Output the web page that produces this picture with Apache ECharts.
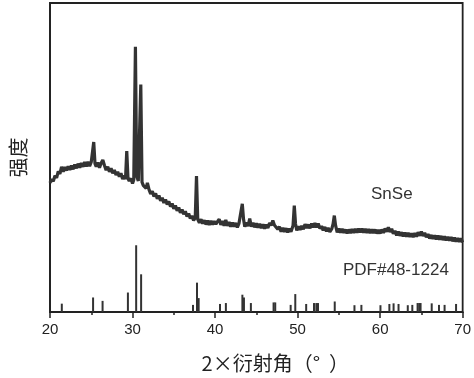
<!DOCTYPE html>
<html>
<head>
<meta charset="utf-8">
<script src="https://cdn.jsdelivr.net/npm/echarts@6/dist/echarts.min.js"></script>
<style>
html,body{margin:0;padding:0;background:#fff;}
#container{width:474px;height:378px;}
</style>
</head>
<body>
<div id="container"></div>
<script>
// measured SnSe pattern, [2theta, intensity a.u.]
var snseCurve = [
  [20.0,418],[20.2,430],[20.4,423],[20.6,441],[20.8,434],[21.0,455],[21.2,447],[21.4,470],[21.6,454],[21.8,469],
  [22.0,458],[22.2,471],[22.4,460],[22.6,474],[22.8,462],[23.0,477],[23.2,465],[23.4,480],[23.6,467],[23.8,482],
  [24.0,470],[24.2,485],[24.4,471],[24.6,486],[24.8,472],[25.0,486],[25.15,490],[25.3,550],[25.45,480],[25.6,470],
  [25.8,484],[26.0,467],[26.2,482],[26.4,492],[26.6,474],[26.8,459],[27.0,470],[27.2,454],[27.4,465],[27.6,449],
  [27.8,460],[28.0,443],[28.2,454],[28.4,438],[28.6,449],[28.8,430],[29.0,442],[29.15,430],[29.3,521],[29.45,432],
  [29.6,424],[29.8,432],[30.0,416],[30.15,428],[30.35,858],[30.5,440],[30.7,424],[30.85,430],[31.0,736],[31.15,420],
  [31.3,410],[31.5,412],[31.65,400],[31.8,418],[32.0,396],[32.2,382],[32.4,391],[32.6,374],[32.8,384],[33.0,366],
  [33.2,377],[33.4,360],[33.6,370],[33.8,353],[34.0,364],[34.2,348],[34.4,358],[34.6,341],[34.8,351],[35.0,334],
  [35.2,345],[35.4,328],[35.6,338],[35.8,321],[36.0,332],[36.2,316],[36.4,326],[36.6,309],[36.8,319],[37.0,303],
  [37.2,311],[37.4,296],[37.6,305],[37.75,440],[37.9,300],[38.1,289],[38.3,300],[38.5,286],[38.7,297],[38.9,283],
  [39.1,296],[39.3,282],[39.5,295],[39.7,283],[39.9,294],[40.1,284],[40.3,293],[40.5,300],[40.7,282],[40.9,294],
  [41.1,279],[41.3,298],[41.5,279],[41.7,291],[41.9,276],[42.1,289],[42.3,276],[42.5,288],[42.7,274],[42.9,287],
  [43.1,285],[43.3,350],[43.45,300],[43.6,276],[43.8,289],[44.0,278],[44.2,302],[44.4,276],[44.6,289],[44.8,274],
  [45.0,287],[45.2,273],[45.4,285],[45.6,271],[45.8,284],[46.0,270],[46.2,283],[46.4,272],[46.6,288],[46.8,280],
  [47.0,296],[47.2,281],[47.4,285],[47.6,268],[47.8,276],[48.0,260],[48.2,272],[48.4,259],[48.6,271],[48.8,258],
  [49.0,270],[49.2,260],[49.45,280],[49.6,344],[49.75,285],[49.9,264],[50.1,277],[50.3,266],[50.5,279],[50.7,268],
  [50.9,284],[51.1,272],[51.3,283],[51.5,271],[51.7,286],[51.9,274],[52.1,288],[52.3,274],[52.5,286],[52.7,270],
  [52.9,278],[53.1,264],[53.3,275],[53.5,261],[53.7,272],[53.9,259],[54.15,270],[54.3,285],[54.45,312],[54.6,280],
  [54.8,258],[55.0,270],[55.2,257],[55.4,269],[55.6,256],[55.8,267],[56.0,254],[56.2,267],[56.4,255],[56.6,268],
  [56.8,256],[57.0,269],[57.2,257],[57.4,270],[57.6,258],[57.8,270],[58.0,257],[58.2,269],[58.4,256],[58.6,268],
  [58.8,255],[59.0,267],[59.2,255],[59.4,267],[59.6,254],[59.8,266],[60.0,254],[60.2,267],[60.4,256],[60.6,270],
  [60.8,260],[61.0,274],[61.2,259],[61.4,269],[61.6,253],[61.8,263],[62.0,248],[62.2,260],[62.4,247],[62.6,258],
  [62.8,245],[63.0,257],[63.2,244],[63.4,256],[63.6,243],[63.8,254],[64.0,242],[64.2,255],[64.4,244],[64.6,258],
  [64.8,247],[65.0,260],[65.2,246],[65.4,256],[65.6,242],[65.8,252],[66.0,238],[66.2,249],[66.4,237],[66.6,248],
  [66.8,235],[67.0,247],[67.2,234],[67.4,246],[67.6,233],[67.8,245],[68.0,232],[68.2,243],[68.4,231],[68.6,242],
  [68.8,229],[69.0,241],[69.2,228],[69.4,239],[69.6,227],[69.8,238],[70.0,225]
];
// PDF#48-1224 reference lines
var pdfAngle = [21.43,25.22,26.37,29.44,30.44,31.04,37.33,37.81,38.01,40.6,41.31,43.31,43.5,44.34,47.09,47.29,
  49.16,49.72,51.04,51.99,52.27,52.47,54.5,56.89,57.73,60.04,61.12,61.63,62.23,63.35,63.9,64.54,64.74,64.9,
  66.25,67.13,67.81,69.2];
var pdfIntensity = [27,47,36,63,216,122,23,95,45,26,29,56,47,29,31,31,
  23,58,26,29,29,29,34,22,23,22,26,28,26,22,23,29,29,29,
  28,23,23,26];
var xTicks = [20,30,40,50,60,70];

var myChart = echarts.init(document.getElementById('container'));
var sticks = [];
for(var i=0;i<pdfAngle.length;i++){
	sticks.push([pdfAngle[i],pdfIntensity[i]]);
}
var option = {
	animation:false,
	grid:{left:44.5,right:11,top:3,bottom:64,show:true,borderColor:'#222',borderWidth:1.8,backgroundColor:'#fff'},
	xAxis:{
		type:'value',min:xTicks[0],max:xTicks[xTicks.length-1],interval:10,
		name:'2×衍射角（°  ）',nameLocation:'middle',nameGap:41,
		nameTextStyle:{fontFamily:'Noto Sans CJK SC',fontSize:20,color:'#222',padding:[0,0,0,38]},
		axisLine:{lineStyle:{color:'#222',width:1.8}},
		axisTick:{length:6,lineStyle:{color:'#222',width:1.5}},
		minorTick:{show:true,splitNumber:2,length:3,lineStyle:{color:'#222',width:1.5}},
		axisLabel:{fontFamily:'Liberation Sans',fontSize:15,color:'#222',margin:10},
		splitLine:{show:false}
	},
	yAxis:{
		type:'value',min:0,max:1000,
		name:'强度',nameLocation:'middle',nameGap:22,
		nameTextStyle:{fontFamily:'Noto Sans CJK SC',fontSize:20,color:'#222'},
		axisLine:{show:true,lineStyle:{color:'#222',width:1.8}},
		axisTick:{show:false},axisLabel:{show:false},splitLine:{show:false}
	},
	graphic:[
		{type:'text',left:371,top:186,style:{text:'SnSe',fontFamily:'Liberation Sans',fontSize:17,fill:'#333'}},
		{type:'text',left:343,top:262,style:{text:'PDF#48-1224',fontFamily:'Liberation Sans',fontSize:17,fill:'#333'}}
	],
	series:[
		{name:'SnSe',type:'line',data:snseCurve,symbol:'none',lineStyle:{color:'#333',width:3.2},z:3},
		{name:'PDF#48-1224',type:'bar',data:sticks,barWidth:2,itemStyle:{color:'#333'},z:2}
	]
};
myChart.setOption(option);
</script>
</body>
</html>
